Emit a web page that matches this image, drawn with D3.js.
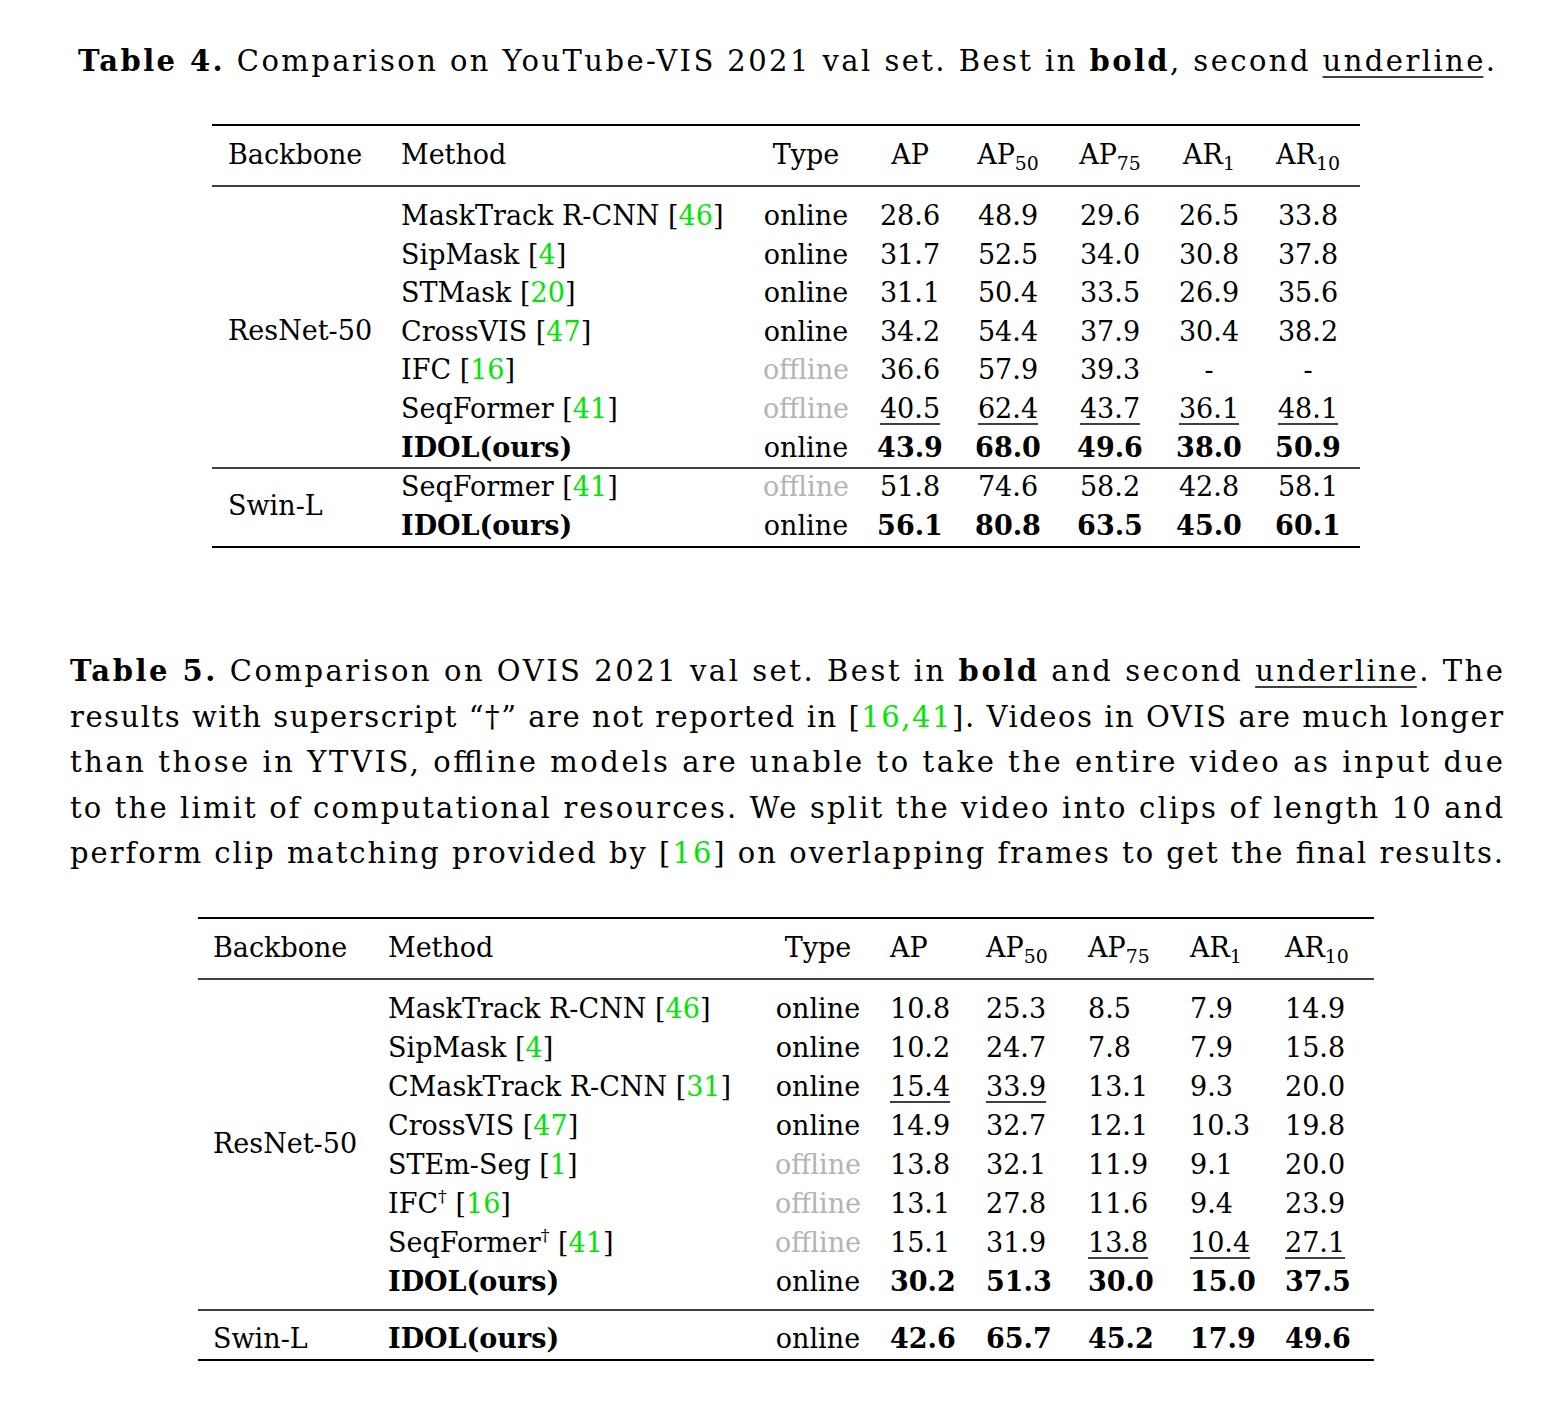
<!DOCTYPE html>
<html><head><meta charset="utf-8">
<script src="https://cdn.jsdelivr.net/npm/d3@7"></script>
<style>body{margin:0;background:#fff}text{font-family:"DejaVu Serif","Liberation Serif",serif;fill:#000}</style>
</head><body><svg id="c" width="1544" height="1420"></svg>
<script>
const headers = ["Backbone","Method","Type","AP","AP|50","AP|75","AR|1","AR|10"];
// Table 4
const t4Methods = ["MaskTrack R-CNN","SipMask","STMask","CrossVIS","IFC","SeqFormer","IDOL(ours)","SeqFormer","IDOL(ours)"];
const t4Cites   = ["46","4","20","47","16","41","","41",""];
const t4Types   = ["online","online","online","online","offline","offline","online","offline","online"];
const t4Values  = [
 ["28.6","48.9","29.6","26.5","33.8"],
 ["31.7","52.5","34.0","30.8","37.8"],
 ["31.1","50.4","33.5","26.9","35.6"],
 ["34.2","54.4","37.9","30.4","38.2"],
 ["36.6","57.9","39.3","-","-"],
 ["40.5","62.4","43.7","36.1","48.1"],
 ["43.9","68.0","49.6","38.0","50.9"],
 ["51.8","74.6","58.2","42.8","58.1"],
 ["56.1","80.8","63.5","45.0","60.1"]];
const t4Under = [[],[],[],[],[],[0,1,2,3,4],[],[],[]];
// Table 5
const t5Methods = ["MaskTrack R-CNN","SipMask","CMaskTrack R-CNN","CrossVIS","STEm-Seg","IFC","SeqFormer","IDOL(ours)","IDOL(ours)"];
const t5Cites   = ["46","4","31","47","1","16","41","",""];
const t5Dagger  = [0,0,0,0,0,1,1,0,0];
const t5Types   = ["online","online","online","online","offline","offline","offline","online","online"];
const t5Values  = [
 ["10.8","25.3","8.5","7.9","14.9"],
 ["10.2","24.7","7.8","7.9","15.8"],
 ["15.4","33.9","13.1","9.3","20.0"],
 ["14.9","32.7","12.1","10.3","19.8"],
 ["13.8","32.1","11.9","9.1","20.0"],
 ["13.1","27.8","11.6","9.4","23.9"],
 ["15.1","31.9","13.8","10.4","27.1"],
 ["30.2","51.3","30.0","15.0","37.5"],
 ["42.6","65.7","45.2","17.9","49.6"]];
const t5Under = [[],[],[0,1],[],[],[],[2,3,4],[],[]];
const cap4 = ["Table 4.","Comparison on YouTube-VIS 2021 val set. Best in ","bold",", second ","underline","."];
const cap5 = [
 ["Table 5.","Comparison on OVIS 2021 val set. Best in ","bold"," and second ","underline",". The"],
 "results with superscript “†” are not reported in [16,41]. Videos in OVIS are much longer",
 "than those in YTVIS, offline models are unable to take the entire video as input due",
 "to the limit of computational resources. We split the video into clips of length 10 and",
 "perform clip matching provided by [16] on overlapping frames to get the final results."];

const svg = d3.select("#c");
const FS = 27, GREEN = "#00e600", GRAY = "#b4b4b4";

function underline(t, g){
  const b = t.node().getBBox();
  g.append("line").attr("x1",b.x).attr("x2",b.x+b.width).attr("y1",+t.attr("y")+6).attr("y2",+t.attr("y")+6).attr("stroke","#000").attr("stroke-width",1.3);
}
function header(g, y, xs, anchors){
  headers.forEach((h,i)=>{
    const [m,s] = h.split("|");
    const t = g.append("text").attr("x",xs[i]).attr("y",y).attr("font-size",FS).attr("text-anchor",anchors[i]);
    t.append("tspan").text(m);
    if(s) t.append("tspan").attr("font-size",FS*0.7).attr("dy",6).text(s);
  });
}
function methodCell(g,x,y,name,cite,dag){
  const bold = name.startsWith("IDOL");
  const t = g.append("text").attr("x",x).attr("y",y).attr("font-size",FS).attr("font-weight",bold?"bold":null);
  t.append("tspan").text(name);
  if(dag) t.append("tspan").attr("font-size",FS*0.65).attr("dy",-11).text("†");
  if(cite){ t.append("tspan").attr("dy",dag?11:0).text(" ["); t.append("tspan").style("fill",GREEN).text(cite); t.append("tspan").text("]"); }
}
function table(o){
  const g = svg.append("g");
  const ry = d3.scaleLinear().domain([0,1]).range([o.row0,o.row0+o.step]);
  [o.top,o.hdr,o.mid,o.bot].forEach((y,i)=>g.append("line").attr("x1",o.x0).attr("x2",o.x1).attr("y1",y).attr("y2",y).attr("stroke","#000").attr("stroke-width",i==0||i==3?1.8:1.4));
  header(g,o.hy,o.cols,o.anch);
  o.methods.forEach((m,i)=>{
    const y = i<o.split? ry(i) : o.row2[i-o.split];
    methodCell(g,o.cols[1],y,m,o.cites[i],o.dag?o.dag[i]:0);
    g.append("text").attr("x",o.cols[2]).attr("y",y).attr("font-size",FS).attr("text-anchor","middle").style("fill",o.types[i]=="offline"?GRAY:"#000").text(o.types[i]);
    const bold = m.startsWith("IDOL");
    o.values[i].forEach((v,j)=>{
      const t = g.append("text").attr("x",o.cols[3+j]).attr("y",y).attr("font-size",FS).attr("text-anchor",o.anch[3+j]).attr("font-weight",bold?"bold":null).text(v);
      if(o.under[i].includes(j)) underline(t,g);
    });
  });
  o.back.forEach(b=>g.append("text").attr("x",o.cols[0]).attr("y",b[1]).attr("font-size",FS).text(b[0]));
}
function captionLine(parts, x, y, w){
  const t = svg.append("text").attr("x",x).attr("y",y).attr("font-size",29).attr("textLength",w).attr("lengthAdjust","spacing");
  let idx = 0, uStart = -1, uLen = 0;
  parts.forEach((s,k)=>{
    const txt = k==1 ? " "+s : s;
    t.append("tspan").attr("font-weight",(k==0||k==2)?"bold":null).text(txt);
    if(k==4){ uStart = idx; uLen = txt.length; }
    idx += txt.length;
  });
  const n = t.node();
  const a = n.getExtentOfChar(uStart), b = n.getExtentOfChar(uStart+uLen-1);
  svg.append("line").attr("x1",a.x).attr("x2",b.x+b.width).attr("y1",y+6).attr("y2",y+6).attr("stroke","#000").attr("stroke-width",1.4);
}

captionLine(cap4, 78, 71, 1417);

table({x0:212,x1:1360,top:125,hdr:186,mid:468,bot:547,hy:164,row0:225,step:38.6,split:7,row2:[496,535],
  cols:[228,401,806,910,1008,1110,1209,1308],anch:["start","start","middle","middle","middle","middle","middle","middle"],
  methods:t4Methods,cites:t4Cites,types:t4Types,values:t4Values,under:t4Under,
  back:[["ResNet-50",340],["Swin-L",515]]});

cap5.forEach((line,i)=>{
  const y = 681+i*45.5;
  if(Array.isArray(line)){ captionLine(line, 70, y, 1433); return; }
  const t = svg.append("text").attr("x",70).attr("y",y).attr("font-size",29).attr("textLength",1433).attr("lengthAdjust","spacing");
  line.split(/(\[[0-9,]+\])/).forEach(p=>{
    if(/^\[/.test(p)){ t.append("tspan").text("["); t.append("tspan").style("fill",GREEN).text(p.slice(1,-1)); t.append("tspan").text("]"); }
    else t.append("tspan").text(p);
  });
});

table({x0:198,x1:1374,top:918,hdr:979,mid:1310,bot:1360,hy:957,row0:1018,step:39,split:8,row2:[1348],
  cols:[213,388,818,890,986,1088,1190,1285],anch:["start","start","middle","start","start","start","start","start"],
  methods:t5Methods,cites:t5Cites,dag:t5Dagger,types:t5Types,values:t5Values,under:t5Under,
  back:[["ResNet-50",1153],["Swin-L",1348]]});
</script></body></html>
